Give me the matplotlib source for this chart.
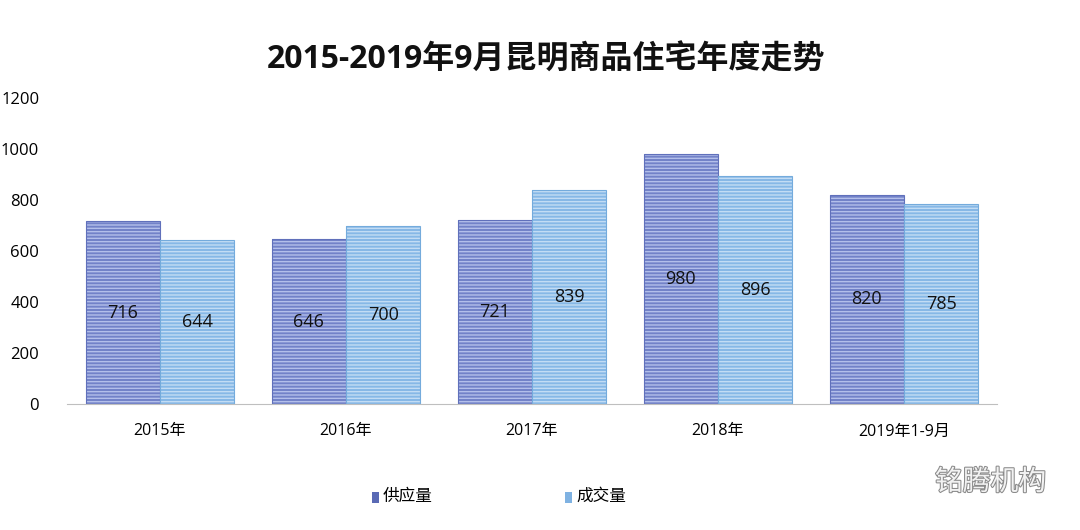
import numpy as np
import matplotlib.pyplot as plt
from matplotlib.patches import Rectangle
import matplotlib.patheffects as pe

plt.rcParams['font.family'] = ['Open Sans', 'Noto Sans CJK SC', 'DejaVu Sans']

# data
years = ['2015年', '2016年', '2017年', '2018年', '2019年1-9月']
supply = [716, 646, 721, 980, 820]
deals = [644, 700, 839, 896, 785]

fig = plt.figure(figsize=(10.8, 5.3), dpi=100)
ax = fig.add_axes([67/1080, 1-404/530, 930/1080, 306/530])

x = np.arange(len(years))
w = 0.4

def striped(xs, vals, base, stripe, edge):
    ax.bar(xs, vals, w, color=base, edgecolor=stripe, hatch='-----', linewidth=0)
    ax.bar(xs, vals, w, fill=False, edgecolor=edge, linewidth=0.8)

striped(x - w/2, supply, '#7282c8', '#b3bfea', '#6070bb')
striped(x + w/2, deals, '#86b8e6', '#c2dcf4', '#74abdc')

for i in range(len(years)):
    ax.text(x[i] - w/2, supply[i]/2, str(supply[i]), ha='center', va='center', fontsize=13, color='#111111')
    ax.text(x[i] + w/2, deals[i]/2, str(deals[i]), ha='center', va='center', fontsize=13, color='#111111')

ax.set_xlim(-0.5, 4.5)
ax.set_ylim(0, 1200)
ax.set_yticks(range(0, 1201, 200))
ax.set_xticks(x)
ax.set_xticklabels(years, fontsize=11.5)
ax.tick_params(axis='y', labelsize=12, length=0, pad=20)
ax.tick_params(axis='x', length=0, pad=14)
for s in ['top', 'right', 'left']:
    ax.spines[s].set_visible(False)
ax.spines['bottom'].set_color('#bfbfbf')

fig.text(546/1080, 1-60/530, '2015-2019年9月昆明商品住宅年度走势', ha='center', va='center',
         fontsize=23, fontweight='bold', color='#111111')

# legend
fig.patches.append(Rectangle((372/1080, 1-503/530), 7/1080, 11/530, transform=fig.transFigure,
                             facecolor='#5a6ab5', edgecolor='none'))
fig.text(383/1080, 1-497/530, '供应量', va='center', fontsize=12)
fig.patches.append(Rectangle((565/1080, 1-503/530), 7/1080, 11/530, transform=fig.transFigure,
                             facecolor='#7fb2e2', edgecolor='none'))
fig.text(576/1080, 1-497/530, '成交量', va='center', fontsize=12)

# watermark
fig.text(935/1080, 1-483/530, '铭腾机构', va='center', fontsize=20, color='#f2f2f2',
         path_effects=[pe.withStroke(linewidth=1.5, foreground='#8a8a8a')])

fig.savefig('out.png', dpi=100)
